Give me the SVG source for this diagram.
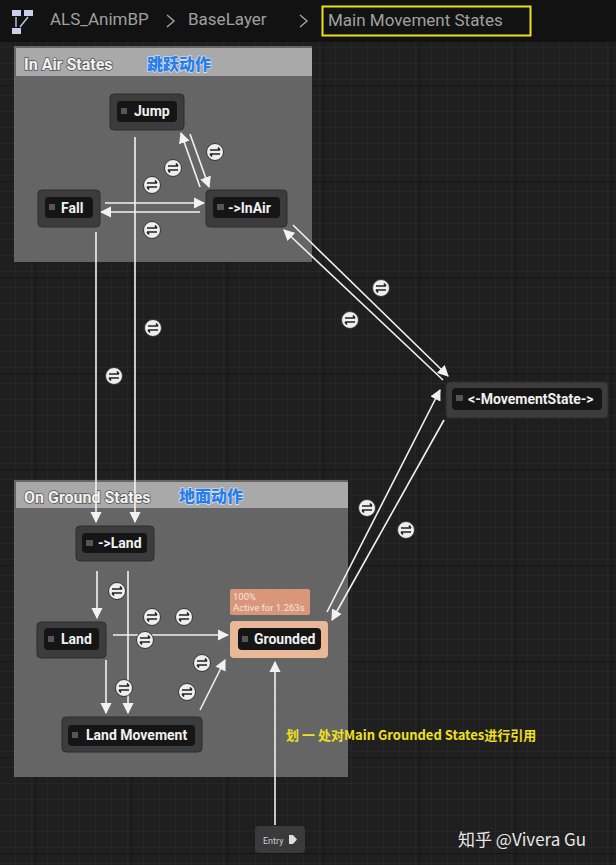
<svg xmlns="http://www.w3.org/2000/svg" width="616" height="865" viewBox="0 0 616 865">
<defs>
<pattern id="g" width="16" height="16" patternUnits="userSpaceOnUse"><path d="M16 0V16H0" fill="none" stroke="#2c2c2c" stroke-width="1"/></pattern>
<pattern id="G" width="96" height="96" patternUnits="userSpaceOnUse" x="-60" y="-10"><path d="M96 0V96H0" fill="none" stroke="#121212" stroke-width="1.5"/></pattern>
<marker id="a" viewBox="0 0 10 10" refX="9" refY="5" markerWidth="7" markerHeight="7" orient="auto-start-reverse"><path d="M0 0L10 5L0 10Z" fill="#f2f2f2"/></marker>
<g id="t"><circle r="8.5" fill="#eee" stroke="#333" stroke-width="1"/><path d="M-5 -2H5M3 -4.5L5 -2M-5 2H5M-3 4.5L-5 2" stroke="#222" stroke-width="1.6" fill="none"/></g>
</defs>
<style>
.o{fill:#3c3c3c;stroke:#2c2c2c}
.i{fill:#151515}
.n{font-family:"Roboto","Liberation Sans",sans-serif;font-size:14px;fill:#f0f0f0;font-weight:bold}
.c line,.c path{stroke:#f2f2f2;stroke-width:1.6;fill:none;marker-end:url(#a)}
.h{font-family:"Roboto","Liberation Sans",sans-serif;font-size:16px;font-weight:bold;fill:#f2f2f2;stroke:#555;stroke-width:1.5;paint-order:stroke}
.cn{font-family:"Noto Sans CJK SC",sans-serif;font-size:16px;font-weight:900;fill:#2a7ee8;stroke:#dde8ff;stroke-width:1.2;paint-order:stroke}
.b{font-family:Roboto,"Liberation Sans",sans-serif;font-size:17px;fill:#a0a0a0}
</style>
<rect width="616" height="865" fill="#1f1f1f"/>
<rect width="616" height="865" fill="url(#g)"/>
<rect width="616" height="865" fill="url(#G)"/>
<rect width="616" height="42" fill="#121212"/>
<g fill="#c8d0f0"><rect x="12" y="10" width="9" height="6"/><rect x="24" y="10" width="9" height="6"/><rect x="12" y="28" width="9" height="6"/><path d="M16 17V27M28 17L20 27" stroke="#c8d0f0" stroke-width="1.3"/></g>
<text x="50" y="25" class="b">ALS_AnimBP</text>
<path d="M167 15L174 21L167 27M300 15L307 21L300 27" stroke="#a0a0a0" stroke-width="1.5" fill="none"/>
<text x="188" y="25" class="b">BaseLayer</text>
<rect x="322.5" y="6.5" width="208" height="29" fill="none" stroke="#e8e020" stroke-width="2"/>
<text x="328" y="26" class="b" fill="#a8a8a8">Main Movement States</text>

<g id="inair">
<rect x="14" y="46" width="298" height="216" fill="#6b6b6b" opacity="0.92"/>
<rect x="16" y="48" width="296" height="28" fill="#a9a9a9"/>
<text x="24" y="70" class="h">In Air States</text>
<text x="147" y="70" class="cn">跳跃动作</text>
</g>
<g id="onground">
<rect x="14" y="480" width="334" height="297" fill="#6b6b6b" opacity="0.92"/>
<rect x="16" y="482" width="332" height="26" fill="#a9a9a9"/>
<text x="24" y="503" class="h">On Ground States</text>
<text x="179" y="502" class="cn">地面动作</text>
</g>

<g class="c">
<line x1="135" y1="137" x2="135" y2="522"/>
<line x1="96" y1="232" x2="96" y2="522"/>
<line x1="200" y1="187" x2="181" y2="133"/>
<line x1="190" y1="134" x2="209" y2="187"/>
<line x1="105" y1="203" x2="204" y2="203"/>
<line x1="200" y1="212" x2="101" y2="212"/>
<line x1="443" y1="380" x2="284" y2="230"/>
<line x1="293" y1="225" x2="448" y2="376"/>
<line x1="444" y1="420" x2="332" y2="620"/>
<line x1="327" y1="612" x2="440" y2="390"/>
<line x1="97" y1="571" x2="97" y2="618"/>
<line x1="106" y1="660" x2="106" y2="713"/>
<line x1="128" y1="571" x2="128" y2="713"/>
<line x1="113" y1="635" x2="228" y2="635"/>
<line x1="200" y1="710" x2="225" y2="660"/>
<line x1="275" y1="825" x2="275" y2="662"/>
</g>
<g id="transitions">
<use href="#t" x="215" y="152"/><use href="#t" x="173" y="168"/><use href="#t" x="152" y="185"/><use href="#t" x="152" y="230"/>
<use href="#t" x="153" y="328"/><use href="#t" x="114" y="376"/><use href="#t" x="381" y="288"/><use href="#t" x="350" y="320"/>
<use href="#t" x="367" y="508"/><use href="#t" x="406" y="530"/><use href="#t" x="117" y="591"/><use href="#t" x="152" y="617"/>
<use href="#t" x="184" y="617"/><use href="#t" x="145" y="640"/><use href="#t" x="124" y="688"/><use href="#t" x="202" y="663"/><use href="#t" x="187" y="692"/>
</g>

<g id="jump"><rect x="110" y="94" width="74" height="36" rx="4" class="o"/><rect x="117" y="101" width="60" height="21" rx="4" class="i"/><rect x="121" y="108" width="6" height="6" fill="#555"/><text x="134" y="116" class="n">Jump</text></g>
<g id="fall"><rect x="38" y="190" width="62" height="37" rx="4" class="o"/><rect x="45" y="197" width="48" height="21" rx="4" class="i"/><rect x="49" y="204" width="6" height="6" fill="#555"/><text x="61" y="213" class="n">Fall</text></g>
<g id="toinair"><rect x="206" y="190" width="81" height="37" rx="4" class="o"/><rect x="213" y="197" width="67" height="21" rx="4" class="i"/><rect x="217" y="204" width="7" height="6" fill="#555"/><text x="228" y="213" class="n">-&gt;InAir</text></g>
<g id="movementstate"><rect x="446" y="382" width="162" height="36" rx="4" class="o"/><rect x="452" y="388" width="150" height="22" rx="4" class="i"/><rect x="456" y="395" width="7" height="6" fill="#555"/><text x="468" y="404" class="n" font-size="13">&lt;-MovementState-&gt;</text></g>
<g id="toland"><rect x="76" y="526" width="78" height="35" rx="4" class="o"/><rect x="82" y="533" width="65" height="20" rx="4" class="i"/><rect x="86" y="540" width="7" height="6" fill="#555"/><text x="98" y="548" class="n">-&gt;Land</text></g>
<g id="land"><rect x="37" y="622" width="69" height="36" rx="4" class="o"/><rect x="44" y="628" width="55" height="22" rx="4" class="i"/><rect x="48" y="636" width="6" height="6" fill="#555"/><text x="61" y="644" class="n">Land</text></g>
<g id="grounded"><rect x="230" y="589" width="80" height="26" rx="2" fill="#d9967a"/><text x="233" y="600" font-family="Roboto,'Liberation Sans',sans-serif" font-size="9.5" fill="#f5e6dc">100%</text><text x="233" y="611" font-family="Roboto,'Liberation Sans',sans-serif" font-size="9.5" fill="#f5e6dc">Active for 1.263s</text>
<rect x="230" y="621" width="98" height="37" rx="4" fill="#e8b899"/><rect x="238" y="628" width="83" height="22" rx="4" class="i"/><rect x="242" y="636" width="6" height="6" fill="#555"/><text x="254" y="644" class="n" fill="#f0f0c8">Grounded</text></g>
<g id="landmovement"><rect x="62" y="717" width="140" height="35" rx="4" class="o"/><rect x="68" y="725" width="127" height="21" rx="4" class="i"/><rect x="72" y="732" width="6" height="6" fill="#555"/><text x="86" y="740" class="n" fill="#f0f0c8">Land Movement</text></g>
<g id="entry"><rect x="255" y="826" width="50" height="27" rx="4" fill="#3a3a3a"/><text x="263" y="844" font-family="Roboto,'Liberation Sans',sans-serif" font-size="9" fill="#ccc">Entry</text><path d="M289 835h4l4 4.5l-4 4.5h-4z" fill="#ddd"/></g>

<text x="286" y="740" font-family="'Noto Sans CJK SC',sans-serif" font-size="13" font-weight="bold" fill="#f0e020">划 一 处对Main Grounded States进行引用</text>
<text x="458" y="846" font-family="'Noto Sans CJK SC',sans-serif" font-size="17" fill="#e8e8e8">知乎 @Vivera Gu</text>
</svg>
